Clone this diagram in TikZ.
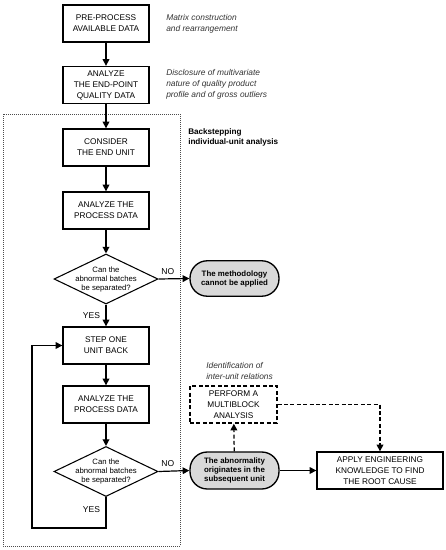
\documentclass[tikz,border=0pt]{standalone}
\usepackage{fontspec}
\setmainfont{Liberation Sans}
\usetikzlibrary{shapes.geometric,arrows.meta}
\begin{document}
\begin{tikzpicture}[x=0.75pt,y=-0.75pt,
  box/.style={draw,line width=1pt,minimum width=64.5pt,minimum height=27.75pt,inner sep=1pt,align=center,font=\fontsize{6.2}{8.25}\selectfont},
  dbox/.style={box,dash pattern=on 3pt off 1.8pt},
  dec/.style={draw,diamond,line width=0.8pt,minimum width=78pt,minimum height=37.5pt,inner sep=0pt},
  dectext/.style={align=center,font=\fontsize{5.8}{6.75}\selectfont},
  term/.style={draw,line width=1pt,fill=black!15,rounded corners=13pt,minimum width=66.75pt,minimum height=26.6pt,inner sep=1pt,align=center,font=\bfseries\fontsize{5.9}{6.75}\selectfont},
  note/.style={align=left,inner sep=0pt,anchor=west,text=black!80,font=\itshape\fontsize{6.3}{8.25}\selectfont},
  bnote/.style={align=left,inner sep=0pt,anchor=west,font=\bfseries\fontsize{6.1}{7.5}\selectfont},
  lab/.style={inner sep=0pt,font=\fontsize{6.4}{7.5}\selectfont},
  arr/.style={line width=0.9pt,-{Triangle[length=5pt,width=5pt]}},
  darr/.style={arr,dash pattern=on 3pt off 1.8pt}
]
\useasboundingbox (0,0) rectangle (446,550);
\draw[black!70,line width=0.5pt,dash pattern=on 0.6pt off 0.9pt] (3,114) rectangle (180,546);

\node[box] (pre) at (106,23.5) {PRE-PROCESS\\AVAILABLE DATA};
\node[box] (endq) at (106,85) {ANALYZE\\THE END-POINT\\QUALITY DATA};
\node[box] (cons) at (106,147.5) {CONSIDER\\THE END UNIT};
\node[box] (proc1) at (106,210.5) {ANALYZE THE\\PROCESS DATA};
\node[dec] (d1) at (106,279) {};
\node[dectext] (d1t) at (106,279) {Can the\\abnormal batches\\be separated?};
\node[term] (meth) at (234.5,278.5) {The methodology\\cannot be applied};
\node[box] (step) at (106,345.5) {STEP ONE\\UNIT BACK};
\node[box] (proc2) at (106,404.5) {ANALYZE THE\\PROCESS DATA};
\node[dec] (d2) at (106,471.5) {};
\node[dectext] (d2t) at (106,471.5) {Can the\\abnormal batches\\be separated?};
\node[term,minimum height=27.75pt] (abn) at (234.5,470.5) {The abnormality\\originates in the\\subsequent unit};
\node[box,minimum width=94.5pt] (apply) at (380,470.5) {APPLY ENGINEERING\\KNOWLEDGE TO FIND\\THE ROOT CAUSE};
\node[dbox,minimum width=65.25pt] (multi) at (233.5,404.5) {PERFORM A\\MULTIBLOCK\\ANALYSIS};

\node[note] (n1) at (166,23.5) {Matrix construction\\and rearrangement};
\node[note] (n2) at (166,84.5) {Disclosure of multivariate\\nature of quality product\\profile and of gross outliers};
\node[bnote] (n3) at (188,137) {Backstepping\\individual-unit analysis};
\node[note] (n4) at (206,370.5) {Identification of\\inter-unit relations};

\draw[arr] (pre) -- (endq);
\draw[arr] (endq) -- (cons);
\draw[arr] (cons) -- (proc1);
\draw[arr] (proc1) -- (d1);
\draw[arr] (d1.east) -- node[lab,above=3pt,pos=0.3] (no1) {NO} (meth.west);
\draw[arr] (d1.south) -- node[lab,left=4pt,pos=0.5] (yes1) {YES} (step.north);
\draw[arr] (step) -- (proc2);
\draw[arr] (proc2) -- (d2);
\draw[arr] (d2.east) -- node[lab,above=3pt,pos=0.3] (no2) {NO} (abn.west);
\coordinate (c1) at (106,528);
\coordinate (c2) at (32,528);
\draw[arr] (d2.south) -- node[lab,left=4pt,pos=0.42] (yes2) {YES} (c1) -- (c2) |- (step.west);
\draw[arr] (abn) -- (apply);
\draw[darr] (abn) -- (multi);
\draw[darr] (multi.east) -| (apply.north);
\end{tikzpicture}
\end{document}
